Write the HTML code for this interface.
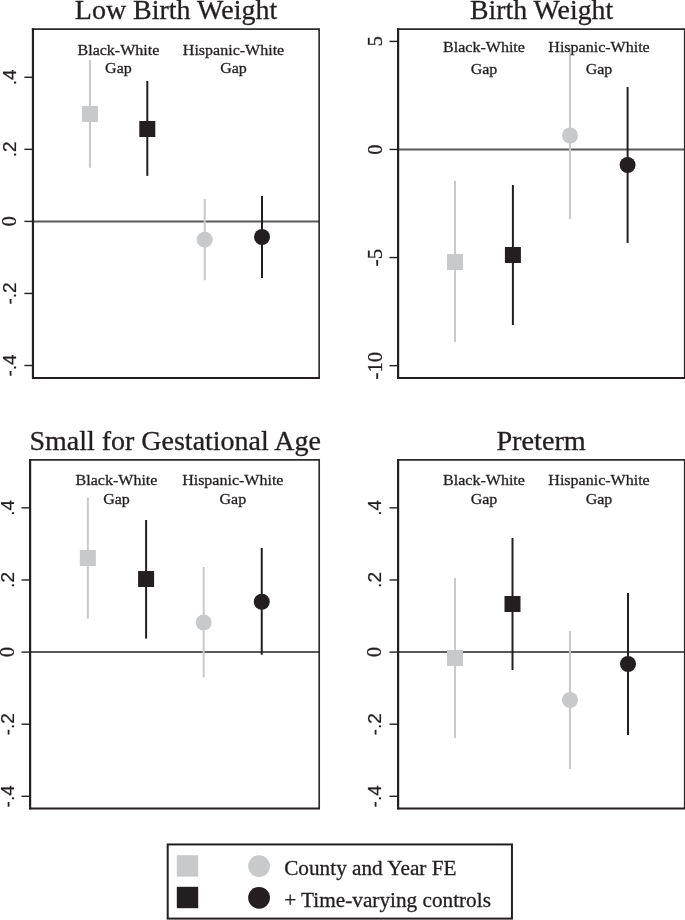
<!DOCTYPE html>
<html lang="en">
<head>
<meta charset="utf-8">
<title>Figure</title>
<style>
html,body{margin:0;padding:0;background:#fff;}
svg{display:block;}
</style>
</head>
<body>
<svg width="685" height="920" viewBox="0 0 685 920">
<rect x="0" y="0" width="685" height="920" fill="#ffffff"/>
<text transform="translate(176.0,18.9) scale(1.029,1)" text-anchor="middle" font-family="'Liberation Serif', 'Times New Roman', Times, serif" font-size="27.2" fill="#231f20" stroke="#231f20" stroke-width="0.3">Low Birth Weight</text>
<line x1="32.95" y1="221.5" x2="319.15" y2="221.5" stroke="#58595b" stroke-width="2.0"/>
<line x1="90" y1="60.1" x2="90" y2="167.8" stroke="#c8c9cb" stroke-width="2.0"/>
<line x1="147.3" y1="80.9" x2="147.3" y2="175.9" stroke="#231f20" stroke-width="2.0"/>
<line x1="204.7" y1="199" x2="204.7" y2="280.3" stroke="#c8c9cb" stroke-width="2.0"/>
<line x1="262" y1="196" x2="262" y2="278" stroke="#231f20" stroke-width="2.0"/>
<rect x="82.0" y="106.0" width="16" height="16" fill="#c8c9cb"/>
<rect x="139.3" y="121.0" width="16" height="16" fill="#231f20"/>
<circle cx="204.7" cy="239.7" r="8" fill="#c8c9cb"/>
<circle cx="262" cy="237" r="8" fill="#231f20"/>
<path d="M31.85 29.15H319.15V377.9" fill="none" stroke="#2d2a2b" stroke-width="1.65"/>
<line x1="32.95" y1="28.325" x2="32.95" y2="378.9" stroke="#231f20" stroke-width="2.2"/>
<line x1="32.95" y1="377.9" x2="319.97499999999997" y2="377.9" stroke="#231f20" stroke-width="2.0"/>
<line x1="24.35" y1="77.3" x2="32.95" y2="77.3" stroke="#231f20" stroke-width="1.4"/>
<text transform="translate(16.3,77.3) rotate(-90) scale(1.0,1)" text-anchor="middle" font-family="'Liberation Sans', Arial, Helvetica, sans-serif" font-size="19.0" fill="#231f20" stroke="#231f20" stroke-width="0.2">.4</text>
<line x1="24.35" y1="149.35" x2="32.95" y2="149.35" stroke="#231f20" stroke-width="1.4"/>
<text transform="translate(16.3,149.35) rotate(-90) scale(1.0,1)" text-anchor="middle" font-family="'Liberation Sans', Arial, Helvetica, sans-serif" font-size="19.0" fill="#231f20" stroke="#231f20" stroke-width="0.2">.2</text>
<line x1="24.35" y1="221.4" x2="32.95" y2="221.4" stroke="#231f20" stroke-width="1.4"/>
<text transform="translate(16.3,221.4) rotate(-90) scale(1.04,1)" text-anchor="middle" font-family="'Liberation Serif', 'Times New Roman', Times, serif" font-size="20" fill="#231f20" stroke="#231f20" stroke-width="0.3">0</text>
<line x1="24.35" y1="293.45" x2="32.95" y2="293.45" stroke="#231f20" stroke-width="1.4"/>
<text transform="translate(16.3,293.45) rotate(-90) scale(1.0,1)" text-anchor="middle" font-family="'Liberation Sans', Arial, Helvetica, sans-serif" font-size="19.0" fill="#231f20" stroke="#231f20" stroke-width="0.2">-.2</text>
<line x1="24.35" y1="365.5" x2="32.95" y2="365.5" stroke="#231f20" stroke-width="1.4"/>
<text transform="translate(16.3,365.5) rotate(-90) scale(1.0,1)" text-anchor="middle" font-family="'Liberation Sans', Arial, Helvetica, sans-serif" font-size="19.0" fill="#231f20" stroke="#231f20" stroke-width="0.2">-.4</text>
<text transform="translate(118.4,55.4) scale(1.04,1)" text-anchor="middle" font-family="'Liberation Serif', 'Times New Roman', Times, serif" font-size="15.4" fill="#231f20" stroke="#231f20" stroke-width="0.3">Black-White</text>
<text transform="translate(118.4,72.5) scale(1.04,1)" text-anchor="middle" font-family="'Liberation Serif', 'Times New Roman', Times, serif" font-size="15.4" fill="#231f20" stroke="#231f20" stroke-width="0.3">Gap</text>
<text transform="translate(233.5,55.4) scale(1.04,1)" text-anchor="middle" font-family="'Liberation Serif', 'Times New Roman', Times, serif" font-size="15.4" fill="#231f20" stroke="#231f20" stroke-width="0.3">Hispanic-White</text>
<text transform="translate(233.5,72.5) scale(1.04,1)" text-anchor="middle" font-family="'Liberation Serif', 'Times New Roman', Times, serif" font-size="15.4" fill="#231f20" stroke="#231f20" stroke-width="0.3">Gap</text>
<text transform="translate(541.6,18.9) scale(1.022,1)" text-anchor="middle" font-family="'Liberation Serif', 'Times New Roman', Times, serif" font-size="27.2" fill="#231f20" stroke="#231f20" stroke-width="0.3">Birth Weight</text>
<line x1="398.1" y1="149.45" x2="684.7" y2="149.45" stroke="#58595b" stroke-width="2.0"/>
<line x1="455" y1="181" x2="455" y2="342" stroke="#c8c9cb" stroke-width="2.0"/>
<line x1="512.9" y1="185" x2="512.9" y2="325" stroke="#231f20" stroke-width="2.0"/>
<line x1="570" y1="48" x2="570" y2="219" stroke="#c8c9cb" stroke-width="2.0"/>
<line x1="627.6" y1="87" x2="627.6" y2="243" stroke="#231f20" stroke-width="2.0"/>
<rect x="447.0" y="254.0" width="16" height="16" fill="#c8c9cb"/>
<rect x="504.9" y="247.0" width="16" height="16" fill="#231f20"/>
<circle cx="570" cy="135.5" r="8" fill="#c8c9cb"/>
<circle cx="627.6" cy="165" r="8" fill="#231f20"/>
<path d="M397.0 29.15H684.7V377.9" fill="none" stroke="#2d2a2b" stroke-width="1.65"/>
<line x1="398.1" y1="28.325" x2="398.1" y2="378.9" stroke="#231f20" stroke-width="2.2"/>
<line x1="398.1" y1="377.9" x2="685.5250000000001" y2="377.9" stroke="#231f20" stroke-width="2.0"/>
<line x1="389.5" y1="41.4" x2="398.1" y2="41.4" stroke="#231f20" stroke-width="1.4"/>
<text transform="translate(382,41.4) rotate(-90) scale(1.04,1)" text-anchor="middle" font-family="'Liberation Serif', 'Times New Roman', Times, serif" font-size="20" fill="#231f20" stroke="#231f20" stroke-width="0.3">5</text>
<line x1="389.5" y1="149.45" x2="398.1" y2="149.45" stroke="#231f20" stroke-width="1.4"/>
<text transform="translate(382,149.45) rotate(-90) scale(1.04,1)" text-anchor="middle" font-family="'Liberation Serif', 'Times New Roman', Times, serif" font-size="20" fill="#231f20" stroke="#231f20" stroke-width="0.3">0</text>
<line x1="389.5" y1="257.55" x2="398.1" y2="257.55" stroke="#231f20" stroke-width="1.4"/>
<text transform="translate(382,257.55) rotate(-90) scale(1.04,1)" text-anchor="middle" font-family="'Liberation Serif', 'Times New Roman', Times, serif" font-size="20" fill="#231f20" stroke="#231f20" stroke-width="0.3">-5</text>
<line x1="389.5" y1="365.65" x2="398.1" y2="365.65" stroke="#231f20" stroke-width="1.4"/>
<text transform="translate(382,365.65) rotate(-90) scale(1.04,1)" text-anchor="middle" font-family="'Liberation Serif', 'Times New Roman', Times, serif" font-size="20" fill="#231f20" stroke="#231f20" stroke-width="0.3">-10</text>
<text transform="translate(484,52) scale(1.04,1)" text-anchor="middle" font-family="'Liberation Serif', 'Times New Roman', Times, serif" font-size="15.4" fill="#231f20" stroke="#231f20" stroke-width="0.3">Black-White</text>
<text transform="translate(484,73.5) scale(1.04,1)" text-anchor="middle" font-family="'Liberation Serif', 'Times New Roman', Times, serif" font-size="15.4" fill="#231f20" stroke="#231f20" stroke-width="0.3">Gap</text>
<text transform="translate(599,52) scale(1.04,1)" text-anchor="middle" font-family="'Liberation Serif', 'Times New Roman', Times, serif" font-size="15.4" fill="#231f20" stroke="#231f20" stroke-width="0.3">Hispanic-White</text>
<text transform="translate(599,73.5) scale(1.04,1)" text-anchor="middle" font-family="'Liberation Serif', 'Times New Roman', Times, serif" font-size="15.4" fill="#231f20" stroke="#231f20" stroke-width="0.3">Gap</text>
<text transform="translate(175.15,449.6) scale(1.029,1)" text-anchor="middle" font-family="'Liberation Serif', 'Times New Roman', Times, serif" font-size="27.2" fill="#231f20" stroke="#231f20" stroke-width="0.3">Small for Gestational Age</text>
<line x1="30.1" y1="652.09" x2="319.2" y2="652.09" stroke="#58595b" stroke-width="2.0"/>
<line x1="87.85" y1="497.6" x2="87.85" y2="618.6" stroke="#c8c9cb" stroke-width="2.0"/>
<line x1="146.1" y1="520" x2="146.1" y2="638.6" stroke="#231f20" stroke-width="2.0"/>
<line x1="203.7" y1="567" x2="203.7" y2="677.5" stroke="#c8c9cb" stroke-width="2.0"/>
<line x1="261.75" y1="548" x2="261.75" y2="654.75" stroke="#231f20" stroke-width="2.0"/>
<rect x="79.85" y="550.0" width="16" height="16" fill="#c8c9cb"/>
<rect x="138.1" y="571.0" width="16" height="16" fill="#231f20"/>
<circle cx="203.7" cy="622.5" r="8" fill="#c8c9cb"/>
<circle cx="261.75" cy="601.75" r="8" fill="#231f20"/>
<path d="M29.0 459.85H319.2V808.45" fill="none" stroke="#2d2a2b" stroke-width="1.65"/>
<line x1="30.1" y1="459.02500000000003" x2="30.1" y2="809.45" stroke="#231f20" stroke-width="2.2"/>
<line x1="30.1" y1="808.45" x2="320.025" y2="808.45" stroke="#231f20" stroke-width="2.0"/>
<line x1="21.5" y1="507.85" x2="30.1" y2="507.85" stroke="#231f20" stroke-width="1.4"/>
<text transform="translate(14.1,507.85) rotate(-90) scale(1.0,1)" text-anchor="middle" font-family="'Liberation Sans', Arial, Helvetica, sans-serif" font-size="19.0" fill="#231f20" stroke="#231f20" stroke-width="0.2">.4</text>
<line x1="21.5" y1="579.97" x2="30.1" y2="579.97" stroke="#231f20" stroke-width="1.4"/>
<text transform="translate(14.1,579.97) rotate(-90) scale(1.0,1)" text-anchor="middle" font-family="'Liberation Sans', Arial, Helvetica, sans-serif" font-size="19.0" fill="#231f20" stroke="#231f20" stroke-width="0.2">.2</text>
<line x1="21.5" y1="652.09" x2="30.1" y2="652.09" stroke="#231f20" stroke-width="1.4"/>
<text transform="translate(14.1,652.09) rotate(-90) scale(1.04,1)" text-anchor="middle" font-family="'Liberation Serif', 'Times New Roman', Times, serif" font-size="20" fill="#231f20" stroke="#231f20" stroke-width="0.3">0</text>
<line x1="21.5" y1="724.21" x2="30.1" y2="724.21" stroke="#231f20" stroke-width="1.4"/>
<text transform="translate(14.1,724.21) rotate(-90) scale(1.0,1)" text-anchor="middle" font-family="'Liberation Sans', Arial, Helvetica, sans-serif" font-size="19.0" fill="#231f20" stroke="#231f20" stroke-width="0.2">-.2</text>
<line x1="21.5" y1="796.33" x2="30.1" y2="796.33" stroke="#231f20" stroke-width="1.4"/>
<text transform="translate(14.1,796.33) rotate(-90) scale(1.0,1)" text-anchor="middle" font-family="'Liberation Sans', Arial, Helvetica, sans-serif" font-size="19.0" fill="#231f20" stroke="#231f20" stroke-width="0.2">-.4</text>
<text transform="translate(116.5,485.4) scale(1.04,1)" text-anchor="middle" font-family="'Liberation Serif', 'Times New Roman', Times, serif" font-size="15.4" fill="#231f20" stroke="#231f20" stroke-width="0.3">Black-White</text>
<text transform="translate(116.5,503.5) scale(1.04,1)" text-anchor="middle" font-family="'Liberation Serif', 'Times New Roman', Times, serif" font-size="15.4" fill="#231f20" stroke="#231f20" stroke-width="0.3">Gap</text>
<text transform="translate(232.8,485.4) scale(1.04,1)" text-anchor="middle" font-family="'Liberation Serif', 'Times New Roman', Times, serif" font-size="15.4" fill="#231f20" stroke="#231f20" stroke-width="0.3">Hispanic-White</text>
<text transform="translate(232.8,503.5) scale(1.04,1)" text-anchor="middle" font-family="'Liberation Serif', 'Times New Roman', Times, serif" font-size="15.4" fill="#231f20" stroke="#231f20" stroke-width="0.3">Gap</text>
<text transform="translate(541.1,449.6) scale(1.039,1)" text-anchor="middle" font-family="'Liberation Serif', 'Times New Roman', Times, serif" font-size="27.2" fill="#231f20" stroke="#231f20" stroke-width="0.3">Preterm</text>
<line x1="398.1" y1="652.09" x2="684.7" y2="652.09" stroke="#58595b" stroke-width="2.0"/>
<line x1="455" y1="578" x2="455" y2="738" stroke="#c8c9cb" stroke-width="2.0"/>
<line x1="512.5" y1="538" x2="512.5" y2="670" stroke="#231f20" stroke-width="2.0"/>
<line x1="570" y1="631" x2="570" y2="769" stroke="#c8c9cb" stroke-width="2.0"/>
<line x1="628" y1="593" x2="628" y2="735" stroke="#231f20" stroke-width="2.0"/>
<rect x="447.0" y="650.0" width="16" height="16" fill="#c8c9cb"/>
<rect x="504.5" y="596.0" width="16" height="16" fill="#231f20"/>
<circle cx="570" cy="700" r="8" fill="#c8c9cb"/>
<circle cx="628" cy="664" r="8" fill="#231f20"/>
<path d="M397.0 459.85H684.7V808.45" fill="none" stroke="#2d2a2b" stroke-width="1.65"/>
<line x1="398.1" y1="459.02500000000003" x2="398.1" y2="809.45" stroke="#231f20" stroke-width="2.2"/>
<line x1="398.1" y1="808.45" x2="685.5250000000001" y2="808.45" stroke="#231f20" stroke-width="2.0"/>
<line x1="389.5" y1="507.85" x2="398.1" y2="507.85" stroke="#231f20" stroke-width="1.4"/>
<text transform="translate(381.4,507.85) rotate(-90) scale(1.0,1)" text-anchor="middle" font-family="'Liberation Sans', Arial, Helvetica, sans-serif" font-size="19.0" fill="#231f20" stroke="#231f20" stroke-width="0.2">.4</text>
<line x1="389.5" y1="579.97" x2="398.1" y2="579.97" stroke="#231f20" stroke-width="1.4"/>
<text transform="translate(381.4,579.97) rotate(-90) scale(1.0,1)" text-anchor="middle" font-family="'Liberation Sans', Arial, Helvetica, sans-serif" font-size="19.0" fill="#231f20" stroke="#231f20" stroke-width="0.2">.2</text>
<line x1="389.5" y1="652.09" x2="398.1" y2="652.09" stroke="#231f20" stroke-width="1.4"/>
<text transform="translate(381.4,652.09) rotate(-90) scale(1.04,1)" text-anchor="middle" font-family="'Liberation Serif', 'Times New Roman', Times, serif" font-size="20" fill="#231f20" stroke="#231f20" stroke-width="0.3">0</text>
<line x1="389.5" y1="724.21" x2="398.1" y2="724.21" stroke="#231f20" stroke-width="1.4"/>
<text transform="translate(381.4,724.21) rotate(-90) scale(1.0,1)" text-anchor="middle" font-family="'Liberation Sans', Arial, Helvetica, sans-serif" font-size="19.0" fill="#231f20" stroke="#231f20" stroke-width="0.2">-.2</text>
<line x1="389.5" y1="796.33" x2="398.1" y2="796.33" stroke="#231f20" stroke-width="1.4"/>
<text transform="translate(381.4,796.33) rotate(-90) scale(1.0,1)" text-anchor="middle" font-family="'Liberation Sans', Arial, Helvetica, sans-serif" font-size="19.0" fill="#231f20" stroke="#231f20" stroke-width="0.2">-.4</text>
<text transform="translate(484,485.4) scale(1.04,1)" text-anchor="middle" font-family="'Liberation Serif', 'Times New Roman', Times, serif" font-size="15.4" fill="#231f20" stroke="#231f20" stroke-width="0.3">Black-White</text>
<text transform="translate(484,503.5) scale(1.04,1)" text-anchor="middle" font-family="'Liberation Serif', 'Times New Roman', Times, serif" font-size="15.4" fill="#231f20" stroke="#231f20" stroke-width="0.3">Gap</text>
<text transform="translate(599,485.4) scale(1.04,1)" text-anchor="middle" font-family="'Liberation Serif', 'Times New Roman', Times, serif" font-size="15.4" fill="#231f20" stroke="#231f20" stroke-width="0.3">Hispanic-White</text>
<text transform="translate(599,503.5) scale(1.04,1)" text-anchor="middle" font-family="'Liberation Serif', 'Times New Roman', Times, serif" font-size="15.4" fill="#231f20" stroke="#231f20" stroke-width="0.3">Gap</text>
<rect x="167.7" y="844.45" width="344.25" height="74.14999999999998" fill="#fff" stroke="#231f20" stroke-width="2"/>
<rect x="176.8" y="855.1999999999999" width="21.4" height="21.4" fill="#c8c9cb"/>
<rect x="176.8" y="886.8" width="21.4" height="21.4" fill="#231f20"/>
<circle cx="259.05" cy="866.1" r="10.9" fill="#c8c9cb"/>
<circle cx="259.05" cy="897.8" r="10.9" fill="#231f20"/>
<text transform="translate(284.2,874.8) scale(1.022,1)" text-anchor="start" font-family="'Liberation Serif', 'Times New Roman', Times, serif" font-size="20.8" fill="#231f20" stroke="#231f20" stroke-width="0.3">County and Year FE</text>
<text transform="translate(284.2,907.2) scale(1.022,1)" text-anchor="start" font-family="'Liberation Serif', 'Times New Roman', Times, serif" font-size="20.8" fill="#231f20" stroke="#231f20" stroke-width="0.3">+ Time-varying controls</text>
</svg>
</body>
</html>
